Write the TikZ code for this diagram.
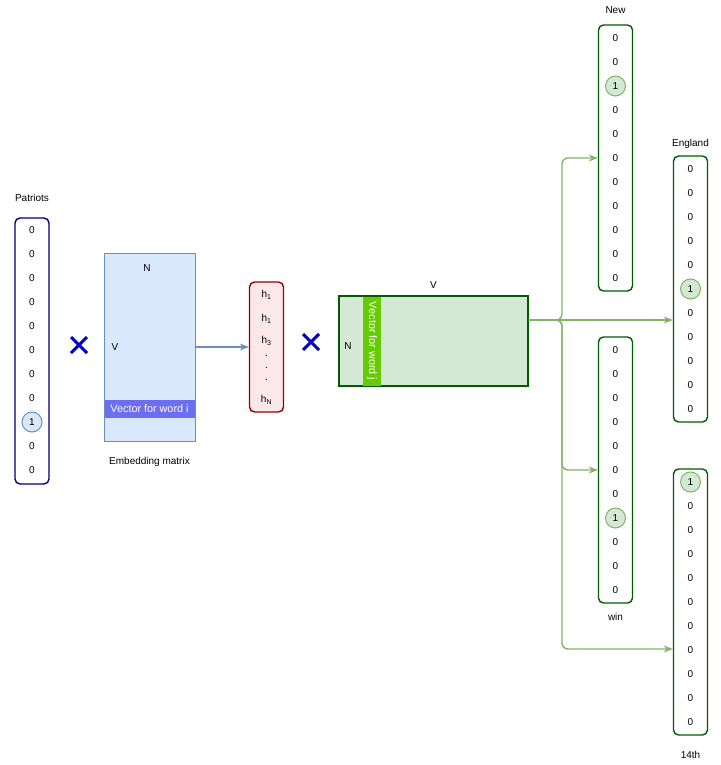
\documentclass[tikz,border=0pt]{standalone}
\usepackage{fontspec}
\setmainfont{Liberation Sans}
\usepackage{tikz}
\usetikzlibrary{shapes.misc, arrows.meta, positioning, calc}

\definecolor{navyline}{HTML}{000080}
\definecolor{blueline}{HTML}{6C8EBF}
\definecolor{bluefill}{HTML}{DAE8FC}
\definecolor{bandblue}{HTML}{6D6DF2}
\definecolor{crossblue}{HTML}{0000C0}
\definecolor{redline}{HTML}{990000}
\definecolor{pinkfill}{HTML}{FCE8E8}
\definecolor{greenline}{HTML}{005C00}
\definecolor{greenfill}{HTML}{D5E8D4}
\definecolor{bandgreen}{HTML}{66CC00}
\definecolor{arrowgreen}{HTML}{82B366}

\tikzset{
  vecbox/.style={draw, rounded corners=5pt, line width=1.4pt, minimum width=34pt, inner sep=0pt},
  lbl/.style={inner sep=2pt, text height=7pt, text depth=2pt},
  bone/.style={circle, draw=blueline, fill=bluefill, line width=1pt, minimum size=20pt, inner sep=0pt},
  gone/.style={circle, draw=arrowgreen, fill=greenfill, line width=1pt, minimum size=20pt, inner sep=0pt},
  times/.style={cross out, draw=crossblue, line width=3pt, minimum size=13pt, inner sep=0pt},
  barrow/.style={-{Stealth[length=9pt, width=7pt]}, draw=blueline, line width=1.1pt},
  garrow/.style={-{Stealth[length=9pt, width=7pt]}, draw=arrowgreen, line width=1.4pt, rounded corners=6pt}
}

\begin{document}
\begin{tikzpicture}[x=1pt, y=-1pt, font=\fontsize{10}{12}\selectfont]
\useasboundingbox (0,0) rectangle (720,765);

% input one-hot vector
\node[vecbox, draw=navyline, minimum height=266pt] (patriots) at (32,351) {};
\node[lbl, above=12pt of patriots] (patlbl) {Patriots};
\foreach \i in {0,...,10} {
  \ifnum\i=8
    \node[bone] (pat-\i) at (32,230+24*\i) {1};
  \else
    \node (pat-\i) at (32,230+24*\i) {0};
  \fi
}

\node[times] (times1) at (79,345) {};

% embedding matrix
\node[draw=blueline, fill=bluefill, line width=1pt, minimum width=91pt, minimum height=188pt] (emb) at (149.5,347) {};
\node[fill=bandblue, text=white, font=\fontsize{10.8}{12}\selectfont, minimum width=90pt, minimum height=18pt, inner sep=0pt] (wordi) at (149.5,409) {Vector for word i};
\node (embN) at (147,268) {N};
\node (embV) at (115,347) {V};
\node[lbl, below=14pt of emb] (emblbl) {Embedding matrix};

% hidden vector
\node[vecbox, draw=redline, fill=pinkfill, minimum height=130pt] (hvec) at (266.5,347) {};
\foreach \t/\y in {h\textsubscript{1}/295, h\textsubscript{1}/319, h\textsubscript{3}/341, ./356, ./368, ./380, h\textsubscript{N}/400}
  \node[inner sep=1pt] at (266.5,\y) {\t};
\draw[barrow] (emb) -- (hvec);

\node[times] (times2) at (311,342) {};

% output matrix
\node[draw=greenline, fill=greenfill, line width=1.2pt, minimum width=189pt, minimum height=90pt] (gmat) at (433.5,341) {};
\node[fill=bandgreen, text=white, font=\fontsize{10.8}{12}\selectfont, rotate=-90, minimum width=89pt, minimum height=18pt, inner sep=0pt] (wordj) at (372,341) {Vector for word j};
\node (gmatN) at (348,346) {N};
\node[lbl, above=3pt of gmat] (gmatV) {V};

% output vectors
\foreach \name/\x/\ytop/\one in {vnew/615.5/38/2, veng/690.5/169/5, vwin/615.5/350/7, v14/690.5/482/0} {
  \node[vecbox, draw=greenline, minimum height=266pt] (\name) at (\x,\ytop+120) {};
  \foreach \i in {0,...,10} {
    \ifnum\i=\one
      \node[gone] (\name-\i) at (\x,\ytop+24*\i) {1};
    \else
      \node (\name-\i) at (\x,\ytop+24*\i) {0};
    \fi
  }
}
\node[lbl, above=7pt of vnew] {New};
\node[lbl, above=5pt of veng] {England};
\node[lbl, below=8pt of vwin] {win};
\node[lbl, below=14pt of v14] {14th};

% connectors
\coordinate (split) at (562,320);
\draw[garrow] (gmat.east |- split) -- (split) |- (vnew.west);
\draw[garrow] (gmat.east |- split) -- (veng.west |- split);
\draw[garrow] (gmat.east |- split) -- (split) |- (vwin.west);
\draw[garrow] (gmat.east |- split) -- (split) |- ($(v14.west)+(0,47)$);
\end{tikzpicture}
\end{document}
